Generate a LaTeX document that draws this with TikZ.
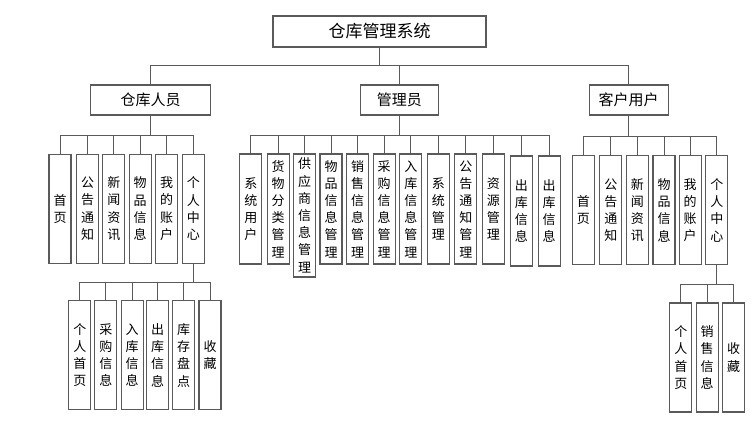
\documentclass[tikz,border=0pt]{standalone}
\usepackage{fontspec}
\newfontfamily\cjk{Noto Sans CJK SC}
\usepackage{tikz}
\usetikzlibrary{
    positioning
}
\definecolor{borde}{HTML}{5A5A5A}
\tikzset{
    caja/.style={
        draw=borde,
        line width=1.2pt,
        fill=white,
        inner sep=0pt,
        align=center
    },
    raiz/.style={
        caja,
        minimum width=213pt,
        minimum height=31pt,
        font=\cjk\fontsize{17}{19}\selectfont
    },
    rol/.style={
        caja,
        minimum height=30pt,
        font=\cjk\fontsize{15}{17}\selectfont
    },
    hoja/.style={
        caja,
        minimum width=22pt,
        minimum height=109pt,
        font=\cjk\fontsize{13}{17.2}\selectfont
    },
    rama/.style={
        draw=borde,
        line width=1pt
    }
}

\begin{document}
\begin{tikzpicture}[
    x=1pt,
    y=-1pt
]
    \useasboundingbox (0,0) rectangle (752,426);

    % Raiz
    \node[raiz] (sis) at (379.5,31.5) {仓库管理系统};

    % Roles
    \node[rol, minimum width=120pt] (alm) at (150.7,100) {仓库人员};
    \node[rol, minimum width=78pt]  (adm) at (399.3,100) {管理员};
    \node[rol, minimum width=79pt]  (cli) at (628.7,100) {客户用户};

    % Hojas del almacen
    \node[hoja] (a1) at (60,208.7)    {首\\页};
    \node[hoja] (a2) at (87.5,208.7)  {公\\告\\通\\知};
    \node[hoja] (a3) at (113.8,208.7) {新\\闻\\资\\讯};
    \node[hoja] (a4) at (140.2,208.7) {物\\品\\信\\息};
    \node[hoja] (a5) at (166.7,208.7) {我\\的\\账\\户};
    \node[hoja] (a6) at (193.3,208.7) {个\\人\\中\\心};

    % Hojas del administrador
    \node[hoja, minimum height=110pt] (m1)  at (250.8,209) {系\\统\\用\\户};
    \node[hoja, minimum height=110pt] (m2)  at (278.2,209) {货\\物\\分\\类\\管\\理};
    \node[hoja, minimum height=123pt] (m3)  at (304.6,215.4) {供\\应\\商\\信\\息\\管\\理};
    \node[hoja, minimum height=110pt] (m4)  at (331,209)   {物\\品\\信\\息\\管\\理};
    \node[hoja, minimum height=110pt] (m5)  at (357.6,209) {销\\售\\信\\息\\管\\理};
    \node[hoja, minimum height=110pt] (m6)  at (384.2,209) {采\\购\\信\\息\\管\\理};
    \node[hoja, minimum height=110pt] (m7)  at (410.8,209) {入\\库\\信\\息\\管\\理};
    \node[hoja, minimum height=110pt] (m8)  at (438.3,209) {系\\统\\管\\理};
    \node[hoja, minimum height=110pt] (m9)  at (465.8,209) {公\\告\\通\\知\\管\\理};
    \node[hoja, minimum height=110pt] (m10) at (493.3,209) {资\\源\\管\\理};
    \node[hoja, minimum height=110pt] (m11) at (521.3,211) {出\\库\\信\\息};
    \node[hoja, minimum height=110pt] (m12) at (549.1,211) {出\\库\\信\\息};

    % Hojas del cliente
    \node[hoja] (c1) at (583.4,210.3) {首\\页};
    \node[hoja] (c2) at (610.8,210.3) {公\\告\\通\\知};
    \node[hoja] (c3) at (637.4,210.3) {新\\闻\\资\\讯};
    \node[hoja] (c4) at (664,210.3)   {物\\品\\信\\息};
    \node[hoja] (c5) at (690.1,210.3) {我\\的\\账\\户};
    \node[hoja] (c6) at (716.8,210.3) {个\\人\\中\\心};

    % Centro personal del almacen
    \node[hoja] (p1) at (79.8,355)  {个\\人\\首\\页};
    \node[hoja] (p2) at (105.8,355) {采\\购\\信\\息};
    \node[hoja] (p3) at (132.2,355) {入\\库\\信\\息};
    \node[hoja] (p4) at (157.5,355.3) {出\\库\\信\\息};
    \node[hoja] (p5) at (183.5,355.3) {库\\存\\盘\\点};
    \node[hoja] (p6) at (210,355.3) {收\\藏};

    % Centro personal del cliente
    \node[hoja] (q1) at (680.8,357.5) {个\\人\\首\\页};
    \node[hoja] (q2) at (707.2,357.5) {销\\售\\信\\息};
    \node[hoja] (q3) at (733.5,357.5) {收\\藏};

    % Ramas
    \foreach \r in {alm,adm,cli}
        \draw[rama] (sis.south) -- ++(0,18) -| (\r.north);
    \foreach \h in {a1,a2,a3,a4,a5,a6}
        \draw[rama] (alm.south) -- ++(0,19.7) -| (\h.north);
    \foreach \h in {m1,m2,m3,m4,m5,m6,m7,m8,m9,m10,m11,m12}
        \draw[rama] (adm.south) -- ++(0,19.7) -| (\h.north);
    \foreach \h in {c1,c2,c3,c4,c5,c6}
        \draw[rama] (cli.south) -- ++(0,20.7) -| (\h.north);
    \foreach \h in {p1,p2,p3,p4,p5,p6}
        \draw[rama] (a6.south) -- ++(0,18.4) -| (\h.north);
    \foreach \h in {q1,q2,q3}
        \draw[rama] (c6.south) -- ++(0,19) -| (\h.north);

\end{tikzpicture}
\end{document}
